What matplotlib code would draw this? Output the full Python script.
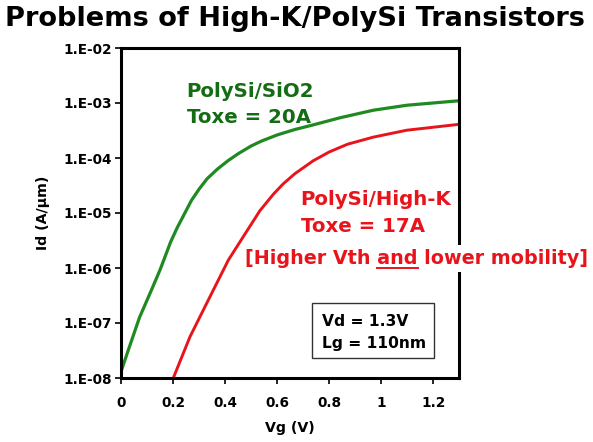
import matplotlib
matplotlib.use("Agg")
import matplotlib.pyplot as plt
from matplotlib.ticker import FixedLocator, NullLocator
from matplotlib.patches import Rectangle
from matplotlib.lines import Line2D

plt.rcParams['font.family'] = ['DejaVu Sans']
plt.rcParams['font.weight'] = 'bold'

# ---- data ----
vg_sio2 = [0.00, 0.03, 0.07, 0.12, 0.15, 0.19, 0.215, 0.24, 0.27, 0.30, 0.33, 0.37,
           0.41, 0.45, 0.50, 0.54, 0.60, 0.668, 0.738, 0.842, 0.970, 1.098, 1.300]
id_sio2 = [1.35e-8, 3.55e-8, 1.26e-7, 4.4e-7, 9.5e-7, 3.0e-6, 5.4e-6, 9.1e-6, 1.7e-5,
           2.75e-5, 4.2e-5, 6.3e-5, 8.9e-5, 1.2e-4, 1.66e-4, 2.04e-4, 2.63e-4, 3.3e-4,
           4.0e-4, 5.4e-4, 7.4e-4, 9.1e-4, 1.1e-3]

vg_hk = [0.200, 0.264, 0.341, 0.412, 0.469, 0.533, 0.585, 0.623, 0.668, 0.738,
         0.800, 0.870, 0.970, 1.098, 1.300]
id_hk = [1.0e-8, 5.6e-8, 3.0e-7, 1.4e-6, 3.7e-6, 1.1e-5, 2.2e-5, 3.4e-5, 5.2e-5,
         8.9e-5, 1.29e-4, 1.78e-4, 2.4e-4, 3.2e-4, 4.1e-4]

x_ticks = [0, 0.2, 0.4, 0.6, 0.8, 1.0, 1.2]
x_tick_labels = ["0", "0.2", "0.4", "0.6", "0.8", "1", "1.2"]
y_ticks = [1e-8, 1e-7, 1e-6, 1e-5, 1e-4, 1e-3, 1e-2]
y_tick_labels = ["1.E-08", "1.E-07", "1.E-06", "1.E-05", "1.E-04", "1.E-03", "1.E-02"]

title = "Problems of High-K/PolySi Transistors"
green_label = ["PolySi/SiO2", "Toxe = 20A"]
red_label = ["PolySi/High-K", "Toxe = 17A"]
note_pre, note_und, note_post = "[Higher Vth ", "and", " lower mobility]"
cond_label = ["Vd = 1.3V", "Lg = 110nm"]

GREEN_LINE = '#1f8a1f'
GREEN_TEXT = '#146c14'
RED = '#e8141c'
ANN_FS = 14.2
NOTE_FS = 13.75

W, H = 593, 442
fig = plt.figure(figsize=(W / 100, H / 100), dpi=100)

def fx(px):
    return px / W

def fy(py):
    return 1 - py / H

ax = fig.add_axes([fx(121.3), fy(378), fx(459.3) - fx(121.3), fy(48) - fy(378)])
ax.set_yscale('log')
ax.plot(vg_sio2, id_sio2, color=GREEN_LINE, lw=2.3, zorder=3)
ax.plot(vg_hk, id_hk, color=RED, lw=2.1, zorder=3)
ax.set_xlim(0, 1.3)
ax.set_ylim(1e-8, 1e-2)

ax.xaxis.set_major_locator(FixedLocator(x_ticks))
ax.set_xticklabels(x_tick_labels)
ax.yaxis.set_major_locator(FixedLocator(y_ticks))
ax.yaxis.set_minor_locator(NullLocator())
ax.set_yticklabels(y_tick_labels)
ax.tick_params(axis='both', direction='out', length=4, width=1.2, labelsize=9.8)
ax.tick_params(axis='x', pad=9)
ax.tick_params(axis='y', pad=3)
for lbl in ax.get_xticklabels() + ax.get_yticklabels():
    lbl.set_fontweight('bold')
for s in ax.spines.values():
    s.set_linewidth(2.2)
    s.set_zorder(4)

ax.set_xlabel("Vg (V)", fontsize=10.2, fontweight='bold', labelpad=8)
ax.set_ylabel("Id (A/\u03bcm)", fontsize=10.2, fontweight='bold', labelpad=9)
ax.set_facecolor('none')
ax.set_zorder(1)

# title
fig.text(fx(5), fy(25.5), title, fontsize=19.6, fontweight='bold', ha='left',
         va='baseline', color='black')

# green annotation (drawn beneath the curve)
fig.text(fx(186.7), fy(96.7), green_label[0], fontsize=ANN_FS, fontweight='bold',
         color=GREEN_TEXT, va='baseline', ha='left', zorder=-1)
fig.text(fx(186.7), fy(123.3), green_label[1], fontsize=ANN_FS, fontweight='bold',
         color=GREEN_TEXT, va='baseline', ha='left', zorder=-1)

# red annotation
fig.text(fx(300.7), fy(205), red_label[0], fontsize=ANN_FS, fontweight='bold',
         color=RED, va='baseline', ha='left', zorder=5)
fig.text(fx(300.7), fy(232.3), red_label[1], fontsize=ANN_FS, fontweight='bold',
         color=RED, va='baseline', ha='left', zorder=5)

note_full = note_pre + note_und + note_post
note = fig.text(fx(245), fy(264), note_full, fontsize=NOTE_FS, fontweight='bold',
                color=RED, va='baseline', ha='left', zorder=5,
                bbox=dict(facecolor='white', edgecolor='none', pad=3))

# underline "and"
fig.canvas.draw()
r = fig.canvas.get_renderer()
def width_of(s):
    t = fig.text(0, 0, s, fontsize=NOTE_FS, fontweight='bold')
    w = t.get_window_extent(r).width
    t.remove()
    return w
w_pre_and = width_of(note_pre + note_und)
w_and = width_of(note_und)
bb = note.get_window_extent(r)
x_end = bb.x0 + w_pre_and
x_start = x_end - w_and
uy = fy(267.5)
fig.add_artist(Line2D([x_start / W, x_end / W], [uy, uy], color=RED, lw=1.4, zorder=6))

# condition box
fig.add_artist(Rectangle((fx(311.7), fy(357.7)), fx(434) - fx(311.7), fy(302.7) - fy(357.7),
                         facecolor='white', edgecolor='#333333', lw=1.0, zorder=5))
fig.text(fx(321.7), fy(326), cond_label[0], fontsize=11.2, fontweight='bold',
         color='black', va='baseline', ha='left', zorder=6)
fig.text(fx(321.7), fy(348.3), cond_label[1], fontsize=11.2, fontweight='bold',
         color='black', va='baseline', ha='left', zorder=6)

fig.savefig("out.png", dpi=100, facecolor='white')
